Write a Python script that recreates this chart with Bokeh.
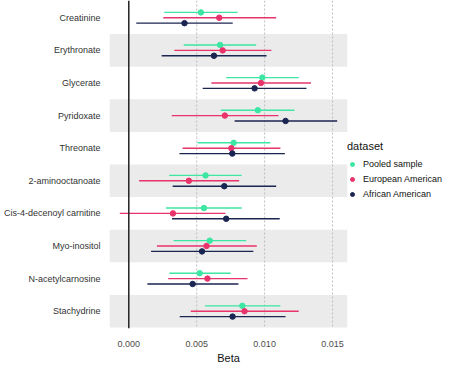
from bokeh.plotting import figure
from bokeh.models import (ColumnDataSource, Range1d, FixedTicker, Legend, LegendItem,
                          Span, BoxAnnotation, CustomJSTickFormatter)
from bokeh.embed import file_html
from bokeh.resources import INLINE

metabolites = ["Creatinine", "Erythronate", "Glycerate", "Pyridoxate", "Threonate",
               "2-aminooctanoate", "Cis-4-decenoyl carnitine", "Myo-inositol",
               "N-acetylcarnosine", "Stachydrine"]
datasets = ["Pooled sample", "European American", "African American"]

# estimates and 95% intervals (x 0.001)
pooled_beta = [5.31, 6.72, 9.83, 9.50, 7.72, 5.65, 5.53, 5.96, 5.22, 8.36]
pooled_lo   = [2.61, 4.04, 7.17, 6.77, 5.06, 2.97, 2.73, 3.30, 2.99, 5.61]
pooled_hi   = [8.01, 9.38, 12.51, 12.20, 10.42, 8.31, 8.31, 8.64, 7.50, 11.16]

euro_beta = [6.66, 6.91, 9.73, 7.07, 7.55, 4.42, 3.25, 5.72, 5.79, 8.52]
euro_lo   = [2.54, 3.35, 6.08, 3.16, 3.96, 0.76, -0.66, 2.07, 2.90, 4.56]
euro_hi   = [10.85, 10.49, 13.41, 11.02, 11.16, 8.12, 7.12, 9.42, 8.74, 12.51]

afr_beta = [4.10, 6.27, 9.26, 11.54, 7.62, 7.03, 7.17, 5.39, 4.70, 7.64]
afr_lo   = [0.55, 2.42, 5.44, 7.79, 3.73, 3.23, 3.18, 1.64, 1.37, 3.75]
afr_hi   = [7.65, 10.14, 13.08, 15.34, 11.49, 10.85, 11.11, 9.17, 8.07, 11.54]

x_ticks = [0.000, 0.005, 0.010, 0.015]
colors = ["#3DE6A2", "#E8336B", "#1B2552"]
offsets = [0.165, 0.0, -0.165]

n = len(metabolites)
ypos = [n - i for i in range(n)]  # Creatinine at top

FW, FH = 238, 328
p = figure(frame_width=FW, frame_height=FH, output_backend="svg", toolbar_location=None,
           x_range=Range1d(-0.00142, 0.0161), y_range=Range1d(0.47, n + 0.53),
           min_border_left=102, min_border_right=0, min_border_top=0,
           min_border_bottom=24)
p.outline_line_color = None
p.background_fill_color = "white"
p.border_fill_color = "white"

# alternating bands
for i in range(n):
    if i % 2 == 1:
        p.add_layout(BoxAnnotation(bottom=ypos[i] - 0.5, top=ypos[i] + 0.5,
                                   fill_color="#EBEBEB", fill_alpha=1.0, line_color=None,
                                   level="underlay"))

p.xgrid.grid_line_color = None
p.ygrid.grid_line_color = None
for t in x_ticks[1:]:
    p.add_layout(Span(location=t, dimension="height", line_color="#BDBDBD",
                      line_dash="2 2", line_width=1, level="underlay"))
p.add_layout(Span(location=0.0, dimension="height", line_color="#222222", line_width=1.5))

series = [(pooled_beta, pooled_lo, pooled_hi), (euro_beta, euro_lo, euro_hi),
          (afr_beta, afr_lo, afr_hi)]
items = []
for k, (b, lo, hi) in enumerate(series):
    src = ColumnDataSource(dict(
        y=[yy + offsets[k] for yy in ypos],
        b=[v / 1000 for v in b],
        lo=[v / 1000 for v in lo],
        hi=[v / 1000 for v in hi]))
    p.segment(x0="lo", x1="hi", y0="y", y1="y", source=src, line_color=colors[k],
              line_width=1.4)
    r = p.scatter(x="b", y="y", source=src, size=5.5, fill_color=colors[k],
                  line_color=colors[k])
    items.append(LegendItem(label=datasets[k], renderers=[r]))

p.xaxis.ticker = FixedTicker(ticks=x_ticks)
p.xaxis.formatter = CustomJSTickFormatter(code="return tick.toFixed(3);")
p.xaxis.axis_label = "Beta"
p.xaxis.axis_label_text_font = "Liberation Sans"
p.xaxis.axis_label_text_font_style = "normal"
p.xaxis.axis_label_text_font_size = "11px"
p.xaxis.axis_label_text_color = "#111111"
p.xaxis.axis_label_standoff = 2
p.xaxis.major_label_text_font = "Liberation Sans"
p.xaxis.major_label_text_font_size = "9px"
p.xaxis.major_label_text_color = "#4D4D4D"
p.xaxis.major_label_standoff = 6

p.yaxis.ticker = FixedTicker(ticks=ypos)
p.yaxis.major_label_overrides = {ypos[i]: metabolites[i] for i in range(n)}
p.yaxis.major_label_text_font = "Liberation Sans"
p.yaxis.major_label_text_font_size = "9px"
p.yaxis.major_label_text_color = "#333333"
p.yaxis.major_label_standoff = 3

for ax in (p.xaxis, p.yaxis):
    ax.axis_line_color = None
    ax.major_tick_line_color = None
    ax.minor_tick_line_color = None

legend = Legend(items=items, location=(0, 129), title="dataset")
legend.title_text_font = "Liberation Sans"
legend.title_text_font_size = "11px"
legend.title_text_font_style = "normal"
legend.title_text_color = "#111111"
legend.label_text_font = "Liberation Sans"
legend.label_text_font_size = "9px"
legend.label_text_color = "#111111"
legend.border_line_color = None
legend.background_fill_alpha = 0
legend.glyph_width = 10
legend.glyph_height = 10
legend.label_height = 10
legend.spacing = 5
legend.margin = 4
legend.padding = 7
legend.title_standoff = 7
legend.label_standoff = 6
p.add_layout(legend, "right")

open("out.html", "w").write(file_html(p, INLINE))
